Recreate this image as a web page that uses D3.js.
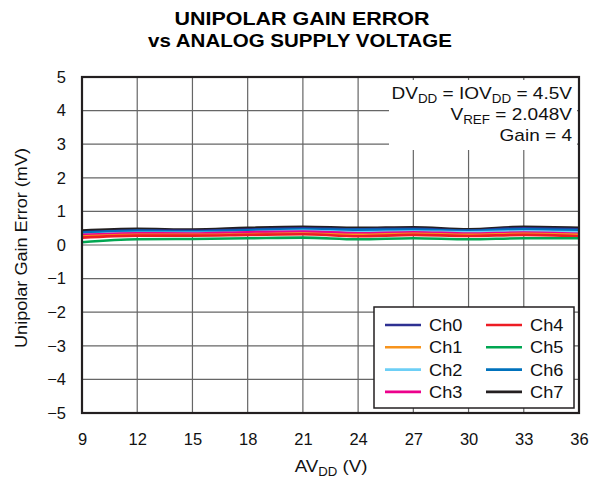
<!DOCTYPE html>
<html><head><meta charset="utf-8">
<script src="https://cdn.jsdelivr.net/npm/d3@7"></script>
<style>body{margin:0;background:#fff}svg{display:block;font-family:"Liberation Sans",Arial,sans-serif}</style>
</head><body><svg id="c" width="598" height="478"></svg>
<script>
const supply = [9,12,15,18,21,24,27,30,33,36];
const xTicks = [9,12,15,18,21,24,27,30,33,36];
const yTicks = [5,4,3,2,1,0,-1,-2,-3,-4,-5];
const channels = ["Ch0","Ch1","Ch2","Ch3","Ch4","Ch5","Ch6","Ch7"];
const colors = ["#2e3192","#f7941d","#6dcff6","#ec008c","#ed1c24","#00a651","#0072bc","#231f20"];
const ch0 = [0.38,0.43,0.42,0.46,0.50,0.47,0.48,0.43,0.50,0.47];
const ch1 = [0.25,0.30,0.30,0.32,0.34,0.30,0.33,0.30,0.33,0.30];
const ch2 = [0.30,0.36,0.36,0.38,0.42,0.38,0.40,0.38,0.40,0.38];
const ch3 = [0.30,0.35,0.34,0.38,0.40,0.35,0.38,0.34,0.37,0.33];
const ch4 = [0.22,0.28,0.28,0.30,0.32,0.26,0.30,0.27,0.30,0.26];
const ch5 = [0.08,0.17,0.18,0.20,0.22,0.17,0.20,0.17,0.20,0.20];
const ch6 = [0.36,0.42,0.40,0.44,0.47,0.45,0.46,0.42,0.47,0.44];
const ch7 = [0.42,0.47,0.45,0.50,0.53,0.50,0.52,0.46,0.53,0.50];
const series = [ch0,ch1,ch2,ch3,ch4,ch5,ch6,ch7];
const drawOrder = [7,0,6,2,3,1,4,5];

const svg = d3.select("#c");
const L=82, R=579, T=77, B=413;
const x = d3.scaleLinear().domain([9,36]).range([L,R]);
const y = d3.scaleLinear().domain([-5,5]).range([B,T]);

function stext(px, py, sx, size, anchor, rot) {
  const g = svg.append("g").attr("transform", `translate(${px},${py})` + (rot?` rotate(${rot})`:"") + ` scale(${sx},1)`);
  return g.append("text").attr("x",0).attr("y",0).attr("font-size",size).attr("text-anchor",anchor).attr("fill","#111");
}

// title
svg.append("text").attr("x",302).attr("y",25).attr("text-anchor","middle").attr("font-weight","bold").attr("font-size",17.5)
  .attr("textLength",255).attr("lengthAdjust","spacingAndGlyphs").text("UNIPOLAR GAIN ERROR");
svg.append("text").attr("x",300).attr("y",47).attr("text-anchor","middle").attr("font-weight","bold").attr("font-size",17.5)
  .attr("textLength",304).attr("lengthAdjust","spacingAndGlyphs").text("vs ANALOG SUPPLY VOLTAGE");

// grid
const g = svg.append("g");
g.selectAll("line.v").data(xTicks.slice(1,-1)).join("line")
 .attr("x1",d=>x(d)).attr("x2",d=>x(d)).attr("y1",T).attr("y2",B).attr("stroke","#666").attr("stroke-width",1.2);
g.selectAll("line.h").data(yTicks.slice(1,-1)).join("line")
 .attr("x1",L).attr("x2",R).attr("y1",d=>y(d)).attr("y2",d=>y(d)).attr("stroke","#666").attr("stroke-width",1.2);

// axes labels via d3 axes
const xAxis = svg.append("g").attr("transform",`translate(0,${B})`)
 .call(d3.axisBottom(x).tickValues(xTicks).tickSize(0).tickPadding(20).tickFormat(d3.format("d")));
xAxis.select(".domain").remove();
xAxis.selectAll("text").attr("font-size",16.5).attr("fill","#111").style("font-family","Liberation Sans, Arial, sans-serif");
const yAxis = svg.append("g").attr("transform",`translate(${L},0)`)
 .call(d3.axisLeft(y).tickValues(yTicks).tickSize(0).tickPadding(16).tickFormat(d=>d<0?"\u2212"+Math.abs(d):d));
yAxis.select(".domain").remove();
yAxis.selectAll("text").attr("font-size",16.5).attr("fill","#111").style("font-family","Liberation Sans, Arial, sans-serif");

// annotation background
svg.append("rect").attr("x",389).attr("y",80).attr("width",188).attr("height",70).attr("fill","#fff");

// lines
const line = d3.line().x((d,i)=>x(supply[i])).y(d=>y(d)).curve(d3.curveMonotoneX);
drawOrder.forEach(k=>{
  svg.append("path").attr("d",line(series[k])).attr("fill","none").attr("stroke",colors[k]).attr("stroke-width",k===7?3.2:2.6);
});

// frame
svg.append("rect").attr("x",L).attr("y",T).attr("width",R-L).attr("height",B-T).attr("fill","none").attr("stroke","#231f20").attr("stroke-width",2.2);

// annotation
const sxA = 1.12;
const t1 = stext(572, 99, sxA, 17, "end");
t1.append("tspan").text("DV");
t1.append("tspan").attr("font-size",12).attr("dy",4).text("DD");
t1.append("tspan").attr("dy",-4).text(" = IOV");
t1.append("tspan").attr("font-size",12).attr("dy",4).text("DD");
t1.append("tspan").attr("dy",-4).text(" = 4.5V");
const t2 = stext(572, 120, sxA, 17, "end");
t2.append("tspan").text("V");
t2.append("tspan").attr("font-size",12).attr("dy",4).text("REF");
t2.append("tspan").attr("dy",-4).text(" = 2.048V");
stext(572, 141, sxA, 17, "end").text("Gain = 4");

// legend
svg.append("rect").attr("x",374).attr("y",307).attr("width",200).attr("height",101).attr("fill","#fff").attr("stroke","#231f20").attr("stroke-width",1.5);
channels.forEach((c,i)=>{
  const col = Math.floor(i/4), row = i%4;
  const lx = 385 + col*101, ly = 325 + row*22.3;
  svg.append("line").attr("x1",lx).attr("x2",lx+36).attr("y1",ly).attr("y2",ly).attr("stroke",colors[i]).attr("stroke-width",2.6);
  stext(lx+44, ly+6, 1.07, 17, "start").text(c);
});

// axis titles
stext(27, 248, 1, 16.5, "middle", -90).attr("textLength",200).attr("lengthAdjust","spacingAndGlyphs").text("Unipolar Gain Error (mV)");
const xt = stext(331, 472, 1.1, 17, "middle");
xt.append("tspan").text("AV");
xt.append("tspan").attr("font-size",12).attr("dy",4).text("DD");
xt.append("tspan").attr("dy",-4).text(" (V)");
</script></body></html>
